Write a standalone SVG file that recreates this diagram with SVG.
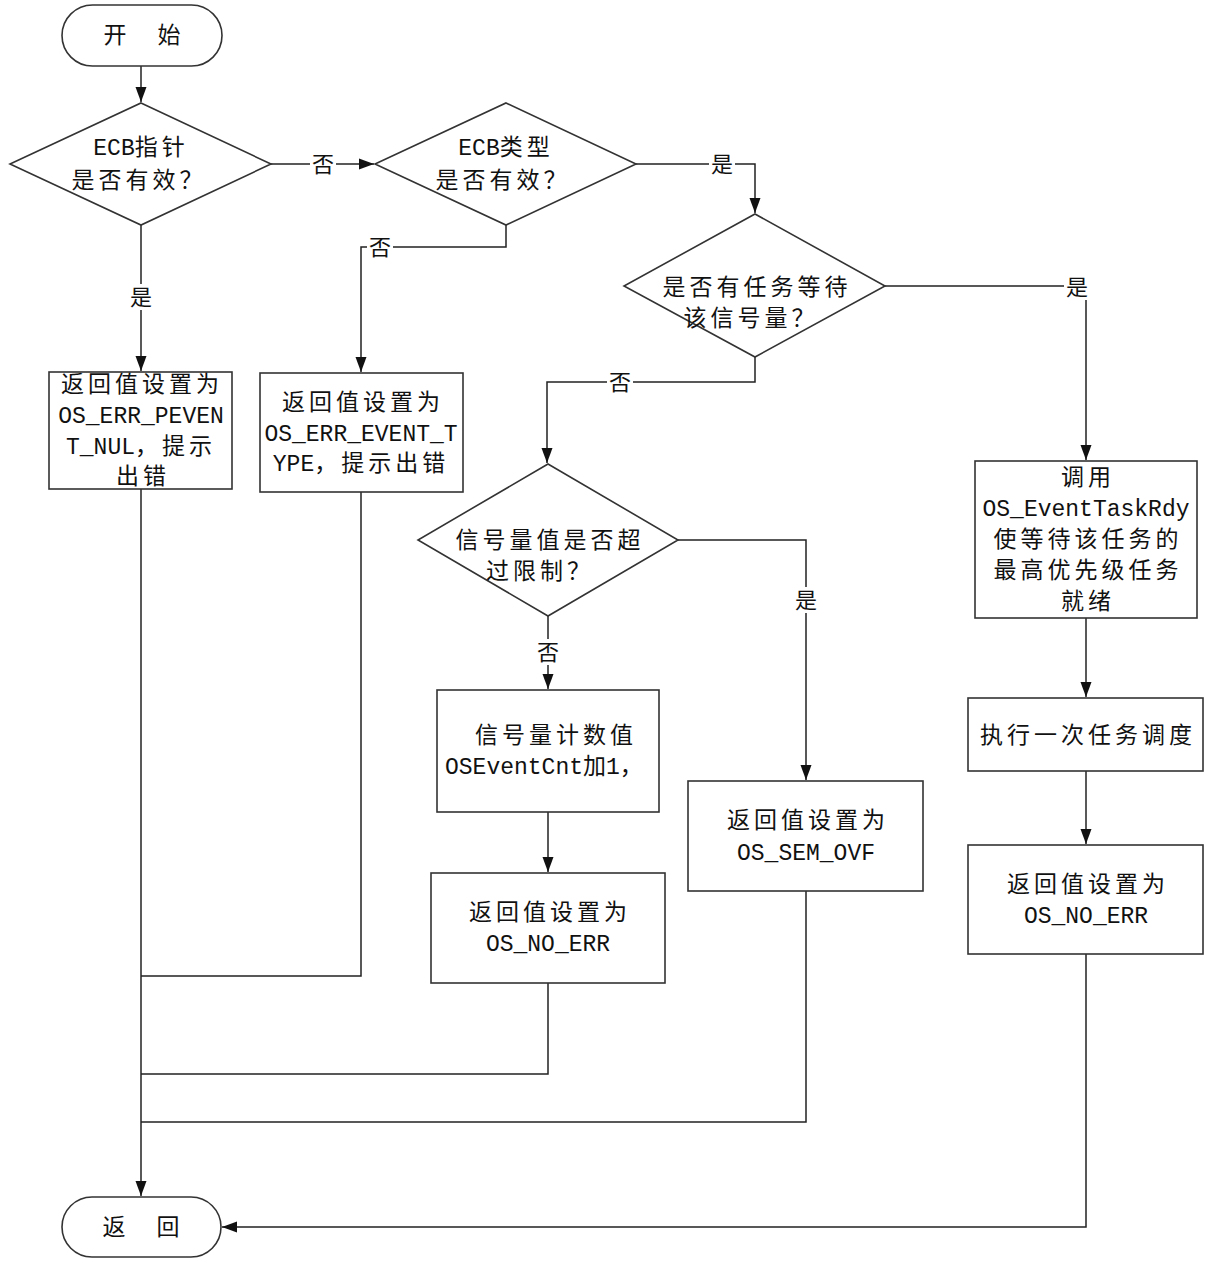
<svg xmlns="http://www.w3.org/2000/svg" width="1211" height="1263" viewBox="0 0 1211 1263">
<defs>
<marker id="arr" markerUnits="userSpaceOnUse" markerWidth="15" markerHeight="12" viewBox="0 0 15 12" refX="15" refY="6" orient="auto">
<path d="M0,0.5 L15,6 L0,11.5 Z" fill="#111"/>
</marker>
<style>
.shape{fill:#fff;stroke:#333;stroke-width:1.6}
.line{fill:none;stroke:#222;stroke-width:1.5}
.t{font-family:"Liberation Mono","Noto Sans CJK SC",monospace;font-size:23px;fill:#111;text-anchor:middle}
.cj{letter-spacing:4px}
.lbl{font-family:"Liberation Mono","Noto Sans CJK SC",monospace;font-size:22px;fill:#111;text-anchor:middle}
.bg{fill:#fff;stroke:none}
</style>
</defs>
<rect width="1211" height="1263" fill="#fff"/>

<g id="connectors">
<path class="line" d="M141,66 V102" marker-end="url(#arr)"/>
<path class="line" d="M271,164 H374" marker-end="url(#arr)"/>
<path class="line" d="M141,225 V371" marker-end="url(#arr)"/>
<path class="line" d="M506,225 V247 H361 V372" marker-end="url(#arr)"/>
<path class="line" d="M636,164 H755 V213" marker-end="url(#arr)"/>
<path class="line" d="M885,286 H1086 V460" marker-end="url(#arr)"/>
<path class="line" d="M755,357 V382 H547 V463" marker-end="url(#arr)"/>
<path class="line" d="M548,616 V689" marker-end="url(#arr)"/>
<path class="line" d="M678,540 H806 V780" marker-end="url(#arr)"/>
<path class="line" d="M548,812 V872" marker-end="url(#arr)"/>
<path class="line" d="M1086,618 V697" marker-end="url(#arr)"/>
<path class="line" d="M1086,771 V844" marker-end="url(#arr)"/>
<path class="line" d="M141,489 V1196" marker-end="url(#arr)"/>
<path class="line" d="M361,492 V976 H141"/>
<path class="line" d="M548,983 V1074 H141"/>
<path class="line" d="M806,891 V1122 H141"/>
<path class="line" d="M1086,954 V1227 H222" marker-end="url(#arr)"/>
<g id="edge-labels">
<rect class="bg" x="310" y="151" width="26" height="26"/><text class="lbl" x="323" y="172">否</text>
<rect class="bg" x="128" y="284" width="26" height="26"/><text class="lbl" x="141" y="305">是</text>
<rect class="bg" x="367" y="234" width="26" height="26"/><text class="lbl" x="380" y="255">否</text>
<rect class="bg" x="709" y="151" width="26" height="26"/><text class="lbl" x="722" y="172">是</text>
<rect class="bg" x="1064" y="274" width="26" height="26"/><text class="lbl" x="1077" y="295">是</text>
<rect class="bg" x="607" y="369" width="26" height="26"/><text class="lbl" x="620" y="390">否</text>
<rect class="bg" x="535" y="639" width="26" height="26"/><text class="lbl" x="548" y="660">否</text>
<rect class="bg" x="793" y="587" width="26" height="26"/><text class="lbl" x="806" y="608">是</text>
</g>
</g>

<g id="start">
<rect class="shape" x="62" y="5" width="160" height="61" rx="30.5"/>
<text class="t cj" x="144" y="43">开　始</text>
</g>

<g id="d1">
<polygon class="shape" points="141,103 271,164 141,225 10,164"/>
<text class="t" x="141" y="155">ECB<tspan class="cj">指针</tspan></text>
<text class="t cj" x="139" y="188">是否有效？</text>
</g>

<g id="d2">
<polygon class="shape" points="506,103 636,164 506,225 375,164"/>
<text class="t" x="506" y="155">ECB<tspan class="cj">类型</tspan></text>
<text class="t cj" x="503" y="188">是否有效？</text>
</g>

<g id="d3">
<polygon class="shape" points="755,214 885,286 755,357 624,286"/>
<text class="t cj" x="757" y="295">是否有任务等待</text>
<text class="t cj" x="751" y="326">该信号量？</text>
</g>

<g id="d4">
<polygon class="shape" points="548,464 678,540 548,616 418,540"/>
<text class="t cj" x="550" y="548">信号量值是否超</text>
<text class="t cj" x="540" y="579">过限制？</text>
</g>

<g id="box1">
<rect class="shape" x="49" y="372" width="183" height="117"/>
<text class="t cj" x="142" y="392">返回值设置为</text>
<text class="t" x="141" y="423">OS_ERR_PEVEN</text>
<text class="t" x="141" y="454">T_NUL<tspan class="cj">，提示</tspan></text>
<text class="t cj" x="143" y="484">出错</text>
</g>

<g id="box2">
<rect class="shape" x="260" y="373" width="203" height="119"/>
<text class="t cj" x="363" y="410">返回值设置为</text>
<text class="t" x="361" y="441">OS_ERR_EVENT_T</text>
<text class="t" x="361" y="471">YPE<tspan class="cj">，提示出错</tspan></text>
</g>

<g id="box3">
<rect class="shape" x="437" y="690" width="222" height="122"/>
<text class="t cj" x="475" y="743" style="text-anchor:start">信号量计数值</text>
<text class="t" x="445" y="774" style="text-anchor:start">OSEventCnt加1，</text>
</g>

<g id="box4">
<rect class="shape" x="431" y="873" width="234" height="110"/>
<text class="t cj" x="550" y="920">返回值设置为</text>
<text class="t" x="548" y="951">OS_NO_ERR</text>
</g>

<g id="box5">
<rect class="shape" x="688" y="781" width="235" height="110"/>
<text class="t cj" x="808" y="828">返回值设置为</text>
<text class="t" x="806" y="860">OS_SEM_OVF</text>
</g>

<g id="box6">
<rect class="shape" x="975" y="461" width="222" height="157"/>
<text class="t cj" x="1088" y="485">调用</text>
<text class="t" x="1086" y="516">OS_EventTaskRdy</text>
<text class="t cj" x="1088" y="547">使等待该任务的</text>
<text class="t cj" x="1088" y="578">最高优先级任务</text>
<text class="t cj" x="1088" y="609">就绪</text>
</g>

<g id="box7">
<rect class="shape" x="968" y="698" width="235" height="73"/>
<text class="t cj" x="1088" y="743">执行一次任务调度</text>
</g>

<g id="box8">
<rect class="shape" x="968" y="845" width="235" height="109"/>
<text class="t cj" x="1088" y="892">返回值设置为</text>
<text class="t" x="1086" y="923">OS_NO_ERR</text>
</g>

<g id="end">
<rect class="shape" x="62" y="1197" width="159" height="60" rx="30"/>
<text class="t cj" x="143" y="1235">返　回</text>
</g>
</svg>
